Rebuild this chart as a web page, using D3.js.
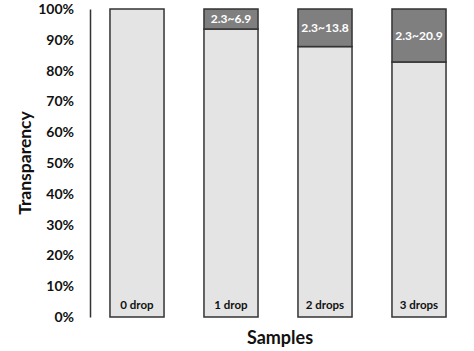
<!DOCTYPE html>
<html>
<head>
<meta charset="utf-8">
<script src="https://cdn.jsdelivr.net/npm/d3@7"></script>
<style>
  body { margin: 0; background: #fff; }
  svg { display: block; font-family: Lato, "Open Sans", sans-serif; font-weight: bold; }
</style>
</head>
<body>
<svg class="chart" width="474" height="351"></svg>
<script>
const samples = ["0 drop", "1 drop", "2 drops", "3 drops"];
const baseValues = [100, 93.5, 87.8, 82.8];
const topValues = [0, 6.5, 12.2, 17.2];
const topLabels = ["", "2.3~6.9", "2.3~13.8", "2.3~20.9"];
const yTicks = [0, 10, 20, 30, 40, 50, 60, 70, 80, 90, 100];

const svg = d3.select(".chart");

const x = d3.scaleBand()
  .domain(samples)
  .range([90, 466])
  .paddingInner(0.425)
  .paddingOuter(0.2125);

const y = d3.scaleLinear().domain([0, 100]).range([317, 9]);

// y axis: line + percent labels, no ticks
const yAxis = svg.append("g")
  .attr("transform", "translate(90,0)")
  .call(d3.axisLeft(y).tickValues(yTicks).tickSize(0).tickPadding(16).tickFormat(d => d + "%"));
yAxis.select(".domain").attr("stroke", "#333").attr("stroke-width", 1.5);
yAxis.selectAll("text")
  .attr("font-family", "Lato, 'Open Sans', sans-serif")
  .attr("font-weight", "bold")
  .attr("font-size", 14)
  .attr("fill", "#111");

const data = samples.map((s, i) => ({ s, base: baseValues[i], top: topValues[i], label: topLabels[i] }));

// light base segment
svg.selectAll("rect.base")
  .data(data)
  .enter()
  .append("rect")
  .attr("class", "base")
  .attr("x", d => x(d.s))
  .attr("y", d => y(d.base))
  .attr("width", x.bandwidth())
  .attr("height", d => y(0) - y(d.base))
  .attr("fill", "#e4e4e4")
  .attr("stroke", "#333")
  .attr("stroke-width", 1.5);

// dark top segment
svg.selectAll("rect.top")
  .data(data.filter(d => d.top > 0))
  .enter()
  .append("rect")
  .attr("class", "top")
  .attr("x", d => x(d.s))
  .attr("y", d => y(d.base + d.top))
  .attr("width", x.bandwidth())
  .attr("height", d => y(d.base) - y(d.base + d.top))
  .attr("fill", "#7f7f7f")
  .attr("stroke", "#333")
  .attr("stroke-width", 1.5);

svg.selectAll("text.toplabel")
  .data(data.filter(d => d.top > 0))
  .enter()
  .append("text")
  .attr("class", "toplabel")
  .attr("x", d => x(d.s) + x.bandwidth() / 2)
  .attr("y", d => (y(d.base) + y(d.base + d.top)) / 2)
  .attr("dy", "0.35em")
  .attr("text-anchor", "middle")
  .attr("font-size", 12)
  .attr("fill", "#fff")
  .text(d => d.label);

// sample names inside bar bottoms
svg.selectAll("text.name")
  .data(data)
  .enter()
  .append("text")
  .attr("class", "name")
  .attr("x", d => x(d.s) + x.bandwidth() / 2)
  .attr("y", y(0) - 12)
  .attr("dy", "0.35em")
  .attr("text-anchor", "middle")
  .attr("font-size", 11.5)
  .attr("fill", "#111")
  .text(d => d.s);

svg.append("text")
  .attr("x", 280)
  .attr("y", 338)
  .attr("dy", "0.35em")
  .attr("text-anchor", "middle")
  .attr("font-size", 18)
  .attr("fill", "#111")
  .text("Samples");

svg.append("text")
  .attr("transform", "translate(25,163) rotate(-90)")
  .attr("dy", "0.35em")
  .attr("text-anchor", "middle")
  .attr("font-size", 17.5)
  .attr("fill", "#111")
  .text("Transparency");
</script>
</body>
</html>
